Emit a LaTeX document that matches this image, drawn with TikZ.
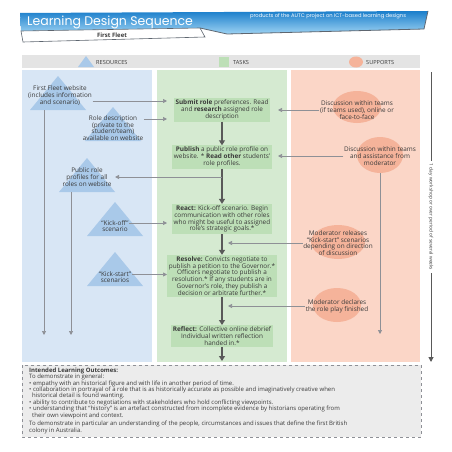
\documentclass[tikz,border=0pt]{standalone}
\usepackage{fontspec}
\setmainfont{Open Sans}
\newfontfamily\titlefont{Poppins}
\usetikzlibrary{arrows.meta, calc, positioning, shapes.geometric}

\definecolor{bannerblue}{HTML}{1A7ECB}
\definecolor{bannerlight}{HTML}{9ED3F3}
\definecolor{tabgray}{HTML}{5E6670}
\definecolor{legendgray}{HTML}{E4E4E4}
\definecolor{rescol}{HTML}{D8E6F5}
\definecolor{restri}{HTML}{A9C9E9}
\definecolor{taskcol}{HTML}{D5EAD1}
\definecolor{taskbox}{HTML}{BDDFB7}
\definecolor{suppcol}{HTML}{FBD6C7}
\definecolor{suppell}{HTML}{F5B39A}
\definecolor{textgray}{HTML}{3A3A3A}
\definecolor{linkgray}{HTML}{8E9096}
\definecolor{flowgray}{HTML}{595959}
\definecolor{boxgray}{HTML}{ECECEC}

\begin{document}
\begin{tikzpicture}[x=1pt, y=-1pt,% styles used in image code
         > = {Triangle[length=4pt, width=4pt]},
txt/.style = {font=\fontsize{6.4}{6.8}\selectfont, align=center,
              inner sep=0.5pt, text=textgray},
key/.style = {font=\fontsize{5.6}{6}\selectfont, anchor=west,
              inner sep=0pt, text=textgray},
task/.style = {txt, fill=taskbox, inner sep=1.5pt},
link/.style = {draw=linkgray, line width=0.7pt, ->},
flow/.style = {draw=flowgray, line width=1.6pt,
               -{Triangle[length=5pt, width=6pt]}},
                        ]
\useasboundingbox (0,0) rectangle (452,452);
\fill[white] (0,0) rectangle (452,452);

	% banner
	\shade[top color=bannerblue, bottom color=bannerlight]
	      (20,13) -- (428,11) -- (424,29) -- (227,34) -- (200,28) -- (21,31) -- cycle;
	\filldraw[fill=white, draw=tabgray, line width=0.6pt]
	      (21,31) -- (200,28) -- (205,37) -- (23,42) -- cycle;
	\draw[tabgray, line width=0.8pt] (200,28) -- (227,34) -- (424,29) -- (428,11);
	\node[anchor=base west, inner sep=0pt, text=white,
	      font=\titlefont\fontsize{12.5}{13}\selectfont] (title) at (27,26) {Learning Design Sequence};
	\node[inner sep=0pt, text=white,
	      font=\titlefont\fontsize{5.2}{5.5}\selectfont] (subtitle) at (328,16) {products of the AUTC project on ICT-based learning designs};
	\node[txt, font=\bfseries\fontsize{6}{6.4}\selectfont] (fleet) at (112,35) {First Fleet};

	% legend bar
	\fill[legendgray] (22,55) rectangle (420,68);
	\fill[restri] (86,56) -- (94,67) -- (78,67) -- cycle;
	\fill[taskbox] (219,57) rectangle (229,67);
	\fill[suppell] (356,62) ellipse (7 and 5.5);
	\node[key] (res key)  at (96,62)  {RESOURCES};
	\node[key] (task key) at (233,62) {TASKS};
	\node[key] (supp key) at (366,62) {SUPPORTS};

	% columns
	\fill[rescol]  (22,70)  rectangle (152,362);
	\fill[taskcol] (157,70) rectangle (287,362);
	\fill[suppcol] (291,70) rectangle (420,362);

	% resources
	\foreach \x/\y in {58/76, 113/107, 87/158, 115/202, 115/252}
	    \fill[restri] (\x,\y) -- ++(28,34) -- ++(-56,0) -- cycle;
	\node[txt] (web)       at (60,95.5) {First Fleet website\\(includes information\\and scenario)};
	\node[txt] (role)      at (113,128) {Role  description\\(private to the\\student/team)\\available on website};
	\node[txt] (pubprof)   at (87,177)  {Public role\\profiles for all\\roles on website};
	\node[txt] (kickoff)   at (115,226) {``Kick-off''\\scenario};
	\node[txt] (kickstart) at (115,277) {``Kick-start''\\scenarios};

	% supports
	\foreach \x/\y/\a/\b in {357/107/24/16, 380/155/23/18, 338/242/27/17, 337/305/24/17}
	    \fill[suppell] (\x,\y) ellipse (\a pt and \b pt);
	\node[txt] (disc1) at (357,110) {Discussion within teams\\(if teams used), online or\\face-to-face};
	\node[txt] (disc2) at (380,156) {Discussion within teams\\and assistance from\\moderator};
	\node[txt] (rel)   at (338,243) {Moderator releases\\``Kick-start'' scenarios\\depending on direction\\of discussion};
	\node[txt] (decl)  at (337,306) {Moderator  declares\\the role play finished};

	% tasks
	\node[task] (submit)  at (222,110) {\textbf{Submit role} preferences. Read\\and \textbf{research} assigned role\\description};
	\node[task] (publish) at (222,157) {\textbf{Publish} a public role profile on\\website. * \textbf{Read other} students'\\role profiles.};
	\node[task] (react)   at (222,219) {\textbf{React:} Kick-off scenario. Begin\\communication with other roles\\who might be useful to assigned\\role's strategic goals.*};
	\node[task] (resolve) at (222,276) {\textbf{Resolve:} Convicts negotiate to\\publish a petition to the Governor.*\\Officers negotiate to publish a\\resolution.* If any students are in\\Governor's role, they publish a\\decision or arbitrate further.*};
	\node[task] (reflect) at (222,336) {\textbf{Reflect:} Collective online debrief\\Individual written reflection\\handed in.*};

	\coordinate (in)  at (167,0);
	\coordinate (mid) at (228,0);
	\coordinate (out) at (278,0);
	\coordinate (end) at (222,361);

	% task flow
	\draw[flow] (submit)  -- (publish);
	\draw[flow] (publish) -- (react);
	\draw[flow] (react)   -- (resolve);
	\draw[flow] (resolve) -- (reflect);
	\draw[flow] (reflect) -- (end);

	% resources into tasks
	\draw[link] ([yshift=-5.5pt]web.east) coordinate (web out) -- (web out -| in);
	\draw[link] ([yshift=9pt]role.east) coordinate (role out) -- (role out -| in);
	\draw[link] (publish.south |- pubprof.east) -- ([xshift=3pt]pubprof.east);
	\draw[link] ([yshift=3pt]kickoff.east) coordinate (ko out) -- (ko out -| in);
	\draw[link] ([yshift=2.5pt]kickstart.east) coordinate (ks out) -- (ks out -| in);

	\coordinate (web foot)  at (44,110);
	\coordinate (web end)   at (44,335);
	\coordinate (prof foot) at (71,192);
	\coordinate (prof end)  at (71,335);
	\draw[link] (web foot)  -- (web end);
	\draw[link] (prof foot) -- (prof end);

	% supports into tasks
	\draw[link] (disc1.west) -- (disc1.west -| out);
	\draw[link] (disc2.west) -- (disc2.west -| out);
	\draw[link] (rel.west)   -- (rel.west -| mid);
	\draw[link] (decl.west)  -- (decl.west -| mid);

	\coordinate (mod foot) at (380,173);
	\coordinate (mod end)  at (380,334);
	\draw[link] (mod foot) -- (mod end);

	% duration
	\coordinate (dur top) at (431,72);
	\coordinate (dur end) at (431,362);
	\node[txt, rotate=-90, font=\fontsize{4.8}{5}\selectfont, inner sep=3pt] (dur) at (431,217)
	     {1 day workshop or over period of several weeks};
	\draw[flowgray, line width=1pt] (dur top) -- (dur);
	\draw[flowgray, line width=1pt, -{Triangle[length=5pt, width=5pt]}] (dur) -- (dur end);

	% outcomes
	\draw[fill=boxgray, draw=linkgray, dashed, line width=0.6pt] (22,365) rectangle (421,437);
	\node[txt, anchor=north west, align=left, inner sep=0pt,
	      font=\fontsize{6}{6.4}\selectfont] (ilo) at (29,367.5)
	  {\textbf{Intended Learning Outcomes:}\\
	   To demonstrate in general:\\
	   • empathy with an historical figure and with life in another period of time.\\
	   • collaboration in portrayal of a role that is as historically accurate as possible and imaginatively creative when\\
	   \hspace*{3pt}historical detail is found wanting.\\
	   • ability to contribute to negotiations with stakeholders who hold conflicting viewpoints.\\
	   • understanding that ``history'' is an artefact constructed from incomplete evidence by historians operating from\\
	   \hspace*{3pt}their own viewpoint and context.\\[2.5pt]
	   To demonstrate in particular an understanding of the people, circumstances and issues that define the first British\\
	   colony in Australia.};
\end{tikzpicture}
\end{document}
